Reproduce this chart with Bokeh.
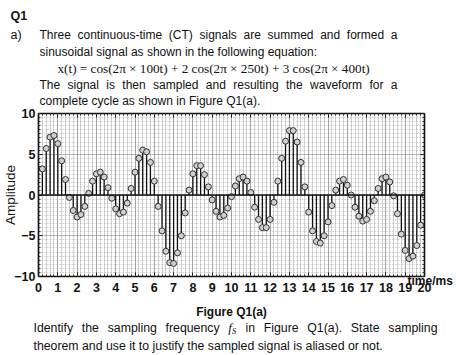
import math
from bokeh.plotting import figure
from bokeh.layouts import column
from bokeh.models import Range1d, LinearAxis, SingleIntervalTicker, Label, Span
from bokeh.embed import file_html
from bokeh.resources import INLINE

# ---- data ----
time_ms = [0.2, 0.4, 0.6, 0.8, 1.0, 1.2, 1.4, 1.6, 1.8, 2.0,
           2.2, 2.4, 2.6, 2.8, 3.0, 3.2, 3.4, 3.6, 3.8, 4.0,
           4.2, 4.4, 4.6, 4.8, 5.0, 5.2, 5.4, 5.6, 5.8, 6.0,
           6.2, 6.4, 6.6, 6.8, 7.0, 7.2, 7.4, 7.6, 7.8, 8.0,
           8.2, 8.4, 8.6, 8.8, 9.0, 9.2, 9.4, 9.6, 9.8, 10.0,
           10.2, 10.4, 10.6, 10.8, 11.0, 11.2, 11.4, 11.6, 11.8, 12.0,
           12.2, 12.4, 12.6, 12.8, 13.0, 13.2, 13.4, 13.6, 13.8, 14.0,
           14.2, 14.4, 14.6, 14.8, 15.0, 15.2, 15.4, 15.6, 15.8, 16.0,
           16.2, 16.4, 16.6, 16.8, 17.0, 17.2, 17.4, 17.6, 17.8, 18.0,
           18.2, 18.4, 18.6, 18.8, 19.0, 19.2, 19.4, 19.6, 19.8, 20.0]
amplitude = [3.2, 5.7, 7.1, 7.3, 6.3, 4.2, 1.9, -0.3, -1.9, -2.7,
             -2.4, -1.4, 0.2, 1.7, 2.6, 2.8, 2.2, 0.9, -0.4, -1.7,
             -2.3, -2.1, -1.0, 0.8, 2.8, 4.5, 5.5, 5.3, 4.0, 1.7,
             -1.4, -4.4, -6.9, -8.3, -8.4, -7.1, -5.0, -2.2, 0.6, 2.6,
             3.6, 3.6, 2.5, 1.0, -0.6, -2.0, -2.7, -2.5, -1.6, -0.2,
             1.1, 2.0, 2.2, 1.7, 0.3, -1.5, -3.0, -4.0, -4.0, -3.0,
             -0.9, 1.7, 4.5, 6.6, 7.9, 7.9, 6.5, 4.0, 1.0, -2.1,
             -4.4, -5.7, -5.9, -5.0, -3.3, -1.3, 0.6, 1.7, 1.9, 1.2,
             0.0, -1.5, -2.6, -3.2, -3.0, -2.0, -0.7, 0.8, 2.0, 2.2,
             1.6, -0.1, -2.3, -4.8, -6.8, -7.8, -7.5, -6.2, -3.7, 0.0]

# ---- page layout (pixels) ----
W = 469
TOP_H = 108
CH_TOP = TOP_H
FT, FB = 113, 276
CH_H = 300 - CH_TOP
BOT_Y0 = 300
BOT_H = 355 - BOT_Y0
FL, FR = 35, 427

INK = "#111111"

def text_fig(height, y0):
    f = figure(width=W, height=height, output_backend="svg", toolbar_location=None,
               x_range=Range1d(0, W), y_range=Range1d(y0 + height, y0),
               min_border=0, x_axis_location=None, y_axis_location=None,
               background_fill_color="white", border_fill_color="white")
    f.outline_line_color = None
    f.grid.visible = False
    f.margin = 0
    f.frame_align = False
    return f

top_fig = text_fig(TOP_H, 0)
bot_fig = text_fig(BOT_H, BOT_Y0)

def lab(f, text, px, py, size, style="normal", font="Liberation Sans", align="left", angle=0.0):
    f.add_layout(Label(x=px, y=py, text=text, text_font=font,
                       text_font_size=f"{size}px", text_font_style=style,
                       text_align=align, text_baseline="middle", angle=angle,
                       text_color=INK))

ARIAL = {' ': 278, 'a': 556, 'b': 556, 'c': 500, 'd': 556, 'e': 556, 'f': 278, 'g': 556,
         'h': 556, 'i': 222, 'j': 222, 'k': 500, 'l': 222, 'm': 833, 'n': 556, 'o': 556,
         'p': 556, 'q': 556, 'r': 333, 's': 500, 't': 278, 'u': 556, 'v': 500, 'w': 722,
         'x': 500, 'y': 500, 'z': 500, 'A': 667, 'C': 722, 'F': 611, 'I': 278, 'Q': 778,
         'S': 667, 'T': 611, '(': 333, ')': 333, '-': 333, ':': 278, '.': 278, '/': 278}

def tw(word, size):
    return sum(ARIAL.get(c, 556) for c in word) * size / 1000.0

def justified(f, words, x0, x1, py, size):
    widths = [ww[1] if isinstance(ww, tuple) else tw(ww, size) for ww in words]
    gap = (x1 - x0 - sum(widths)) / (len(words) - 1)
    x = x0
    pos = []
    for ww, w in zip(words, widths):
        pos.append(x)
        if not isinstance(ww, tuple):
            lab(f, ww, x, py, size)
        x += w + gap
    return pos

# ---- header text ----
lab(top_fig, "Q1", 10, 15, 12.5, style="bold")
lab(top_fig, "a)", 10, 34, 12.5)
justified(top_fig, "Three continuous-time (CT) signals are summed and formed a".split(), 39, 397, 34, 12)
lab(top_fig, "sinusoidal signal as shown in the following equation:", 39, 51, 12)
lab(top_fig, "x(t) = cos(2\u03c0 \u00d7 100t) + 2 cos(2\u03c0 \u00d7 250t) + 3 cos(2\u03c0 \u00d7 400t)",
    57, 68, 13.2, font="Liberation Serif")
justified(top_fig, "The signal is then sampled and resulting the waveform for a".split(), 39, 397, 84, 12)
lab(top_fig, "complete cycle as shown in Figure Q1(a).", 39, 100, 12)

# ---- chart ----
p = figure(width=W, height=CH_H, output_backend="svg", toolbar_location=None,
           x_range=Range1d(0, 20), y_range=Range1d(-10, 10),
           min_border_left=FL, min_border_right=W - FR,
           min_border_top=FT - CH_TOP, min_border_bottom=CH_TOP + CH_H - FB,
           background_fill_color="white", border_fill_color="white")
p.margin = 0
p.frame_align = False
p.outline_line_color = INK
p.outline_line_width = 1.5

xt = SingleIntervalTicker(interval=1, num_minor_ticks=5)
yt = SingleIntervalTicker(interval=5, num_minor_ticks=10)
p.xaxis[0].ticker = xt
p.yaxis[0].ticker = yt

def style_axis(ax, labels=True):
    ax.axis_line_color = INK
    ax.axis_line_width = 1.2
    ax.major_tick_in = 4
    ax.major_tick_out = 0
    ax.minor_tick_in = 2
    ax.minor_tick_out = 0
    ax.major_tick_line_color = INK
    ax.minor_tick_line_color = "#333333"
    ax.major_label_text_font = "Liberation Sans"
    ax.major_label_text_font_style = "bold"
    ax.major_label_text_font_size = "12.5px"
    ax.major_label_text_color = INK
    if not labels:
        ax.major_label_text_font_size = "1px"
        ax.major_label_text_color = None
        ax.major_label_standoff = 0

style_axis(p.xaxis[0])
p.xaxis[0].major_label_standoff = 6
style_axis(p.yaxis[0])
p.yaxis[0].major_label_standoff = 3
p.yaxis[0].axis_label = "Amplitude"
p.yaxis[0].axis_label_standoff = -7
p.yaxis[0].axis_label_text_font = "Liberation Sans"
p.yaxis[0].axis_label_text_font_style = "normal"
p.yaxis[0].axis_label_text_font_size = "13.5px"
p.yaxis[0].axis_label_text_color = INK

top_ax = LinearAxis(ticker=xt)
style_axis(top_ax, labels=False)
p.add_layout(top_ax, "above")
right_ax = LinearAxis(ticker=yt)
style_axis(right_ax, labels=False)
p.add_layout(right_ax, "right")

p.xgrid.grid_line_color = "#666666"
p.xgrid.grid_line_dash = "1 1"
p.xgrid.grid_line_alpha = 0.8
p.xgrid.minor_grid_line_color = "#777777"
p.xgrid.minor_grid_line_dash = "1 1"
p.xgrid.minor_grid_line_alpha = 0.7
p.ygrid.grid_line_color = "#777777"
p.ygrid.grid_line_dash = "1 1"
p.ygrid.grid_line_alpha = 0.8
p.ygrid.minor_grid_line_color = "#888888"
p.ygrid.minor_grid_line_dash = "1 2"
p.ygrid.minor_grid_line_alpha = 0.6

p.add_layout(Span(location=0, dimension="width", line_color=INK, line_width=1.4))

zeros = [0] * len(time_ms)
p.segment(x0=time_ms, y0=zeros, x1=time_ms, y1=amplitude, line_color=INK, line_width=1.3)
p.scatter(x=time_ms, y=amplitude, size=6, marker="circle",
          fill_color="#cfcfcf", line_color="#333333", line_width=1)

# axis-end label, placed in the right side panel (screen units relative to that panel)
p.add_layout(Label(x=-17, y=-4, x_units="screen", y_units="screen", text="time/ms",
                   text_font="Liberation Sans", text_font_size="12px", text_font_style="bold",
                   text_color=INK, text_align="left", text_baseline="middle"), "right")

# ---- bottom text ----
lab(bot_fig, "Figure Q1(a)", 231, 311, 12, style="bold", align="center")
words = ["Identify", "the", "sampling", "frequency", ("fs", 8.5), "in", "Figure", "Q1(a).", "State", "sampling"]
pos = justified(bot_fig, words, 33, 437, 327, 12.3)
fx = pos[4]
lab(bot_fig, "f", fx, 327, 13, style="italic", font="Liberation Serif")
lab(bot_fig, "S", fx + 3.6, 330, 8.5, style="italic", font="Liberation Serif")
lab(bot_fig, "theorem and use it to justify the sampled signal is aliased or not.", 33, 345, 12.3)

page = column(top_fig, p, bot_fig, spacing=0)
page.margin = 0
open("out.html", "w").write(file_html(page, INLINE))
